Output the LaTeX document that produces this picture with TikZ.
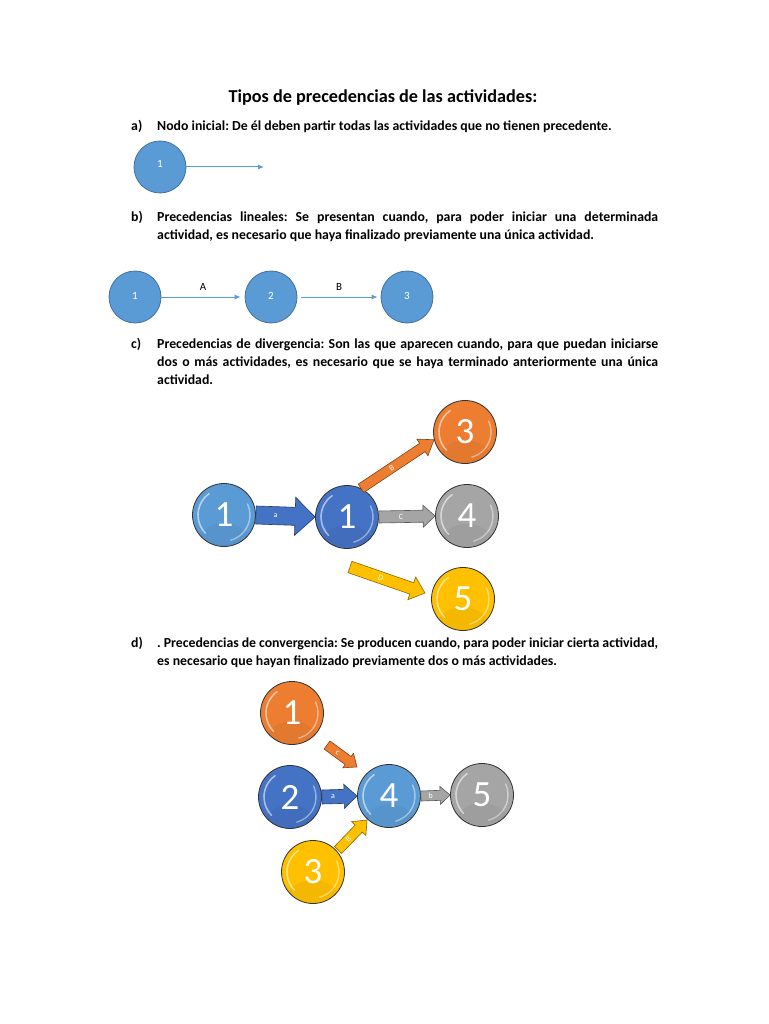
\documentclass[tikz,border=0pt]{standalone}
\usepackage{fontspec}
\setmainfont{Carlito}
\usetikzlibrary{calc,arrows.meta}
\definecolor{lblue}{HTML}{5B9BD5}
\definecolor{dblue}{HTML}{4472C4}
\definecolor{orng}{HTML}{ED7D31}
\definecolor{gry}{HTML}{A5A5A5}
\definecolor{yel}{HTML}{FFC000}
\definecolor{lbborder}{HTML}{41719C}
\newcommand{\blockarrow}[7]{%
  \coordinate (hb) at ($(#2)!#5!(#1)$);
  \filldraw[fill=#6, draw=#6!55!black, line width=0.6pt, line join=miter]
    ($(#1)!#3!90:(#2)$) -- ($(hb)!#3!90:(#2)$) -- ($(hb)!#4!90:(#2)$) -- (#2)
    -- ($(hb)!#4!-90:(#2)$) -- ($(hb)!#3!-90:(#2)$) -- ($(#1)!#3!-90:(#2)$) -- cycle;
  \path (#1) -- (hb) node[midway, sloped, text=white, font=\fontsize{8}{8}\selectfont]{#7};
}
\newcommand{\bodytext}[1]{\fontsize{13.8}{18}\selectfont\bfseries\frenchspacing #1}
\tikzset{
  x=1pt, y=1pt,
  smallball/.style={circle, draw=lbborder, line width=0.8pt, fill=lblue, minimum size=52pt,
    inner sep=0pt, text=white, font=\fontsize{11}{11}\selectfont},
  ball/.style={circle, draw=black!80, line width=0.8pt, fill=#1, minimum size=63pt, inner sep=0pt,
    text=white, font=\fontsize{37}{37}\selectfont,
    path picture={
      \draw[white, opacity=0.55, line width=1.6pt, line cap=round]
        ($(path picture bounding box.center)+(125:26pt)$) arc (125:225:26pt);
      \draw[white, opacity=0.45, line width=1.4pt, line cap=round]
        ($(path picture bounding box.center)+(-75:26pt)$) arc (-75:25:26pt);
      \fill[black, opacity=0.04] ($(path picture bounding box.center)+(0,-40pt)$) circle (32pt);
    }},
  thinarrow/.style={draw=lblue, line width=1pt, -{Latex[length=6pt,width=5pt]}},
  lbl/.style={anchor=base west, inner sep=0pt},
  txt/.style={anchor=base west, inner sep=0pt},
  small/.style={font=\fontsize{11}{11}\selectfont}
}
\begin{document}
\begin{tikzpicture}
\useasboundingbox[fill=white] (0,0) rectangle (768,-1024);

% title
\node[anchor=base, inner sep=0pt, font=\fontsize{18.2}{20}\selectfont\bfseries] (title) at (383,-103) {Tipos de precedencias de las actividades:};

% a)
\node[lbl] (la) at (131,-131) {\bodytext{a)}};
\node[txt] (ta) at (157,-131) {\bodytext{Nodo inicial: De él deben partir todas las actividades que no tienen precedente.}};
\node[smallball] (a1) at (160,-167) {\raisebox{6pt}{1}};
\coordinate (aend) at (264,-167);
\draw[thinarrow] (a1.east) -- (aend);

% b)
\node[lbl] (lb) at (131,-222) {\bodytext{b)}};
\node[txt] (tb) at (157,-222) {\parbox[t]{501pt}{\bodytext{\hyphenpenalty=10000\tolerance=9999 Precedencias lineales: Se presentan cuando, para poder iniciar una determinada\linebreak actividad, es necesario que haya finalizado previamente una única actividad.}}};
\node[smallball] (b1) at (135,-297) {\raisebox{2pt}{1}};
\node[smallball] (b2) at (271,-297) {\raisebox{2pt}{2}};
\node[smallball] (b3) at (407,-297) {\raisebox{2pt}{3}};
\draw[thinarrow, shorten >=4pt] (b1.east) -- node[above=3pt, small, text=black]{A} (b2.west);
\draw[thinarrow, shorten >=3pt, shorten <=4pt] (b2.east) -- node[above=3pt, small, text=black]{B} (b3.west);

% c)
\node[lbl] (lc) at (131,-348) {\bodytext{c)}};
\node[txt] (tc) at (157,-348) {\parbox[t]{501pt}{\bodytext{\hyphenpenalty=10000\tolerance=9999 Precedencias de divergencia: Son las que aparecen cuando, para que puedan iniciarse\linebreak dos o más actividades, es necesario que se haya terminado anteriormente una única\linebreak actividad.}}};
\node[ball=lblue] (c1) at (224,-515) {1};
\node[ball=dblue] (c2) at (347,-517) {1};
\node[ball=orng] (c3) at (465,-432) {3};
\node[ball=gry] (c4) at (467,-516) {4};
\node[ball=yel] (c5) at (463,-599) {5};
\blockarrow{c1.east}{c2.west}{9pt}{19pt}{20pt}{dblue}{a}
\blockarrow{c2.64}{c3.194}{5pt}{10pt}{14pt}{orng}{B}
\blockarrow{c2.east}{c4.west}{6pt}{11pt}{12pt}{gry}{C}
\coordinate (dtail) at (350,-567);
\coordinate (dtip) at (425,-593);
\blockarrow{dtail}{dtip}{6pt}{12pt}{14pt}{yel}{D}

% d)
\node[lbl] (ld) at (131,-647) {\bodytext{d)}};
\node[txt] (td) at (157,-647) {\parbox[t]{501pt}{\bodytext{\hyphenpenalty=10000\tolerance=9999 . Precedencias de convergencia: Se producen cuando, para poder iniciar cierta actividad,\linebreak es necesario que hayan finalizado previamente dos o más actividades.}}};
\node[ball=orng] (d1) at (292,-713) {1};
\node[ball=dblue] (d2) at (290,-797) {2};
\node[ball=lblue] (d4) at (389,-796) {4};
\node[ball=gry] (d5) at (482,-795) {5};
\node[ball=yel] (d3) at (313,-872) {3};
\coordinate (ctail) at (327,-745);
\coordinate (ctip) at (357,-767);
\blockarrow{ctail}{ctip}{5pt}{9pt}{11pt}{orng}{c}
\blockarrow{d2.east}{d4.west}{7pt}{12pt}{13pt}{dblue}{a}
\blockarrow{d4.east}{d5.west}{5pt}{9pt}{10pt}{gry}{b}
\coordinate (ytail) at (338,-850);
\coordinate (ytip) at (367,-820);
\blockarrow{ytail}{ytip}{5pt}{10pt}{12pt}{yel}{B}
\end{tikzpicture}
\end{document}
